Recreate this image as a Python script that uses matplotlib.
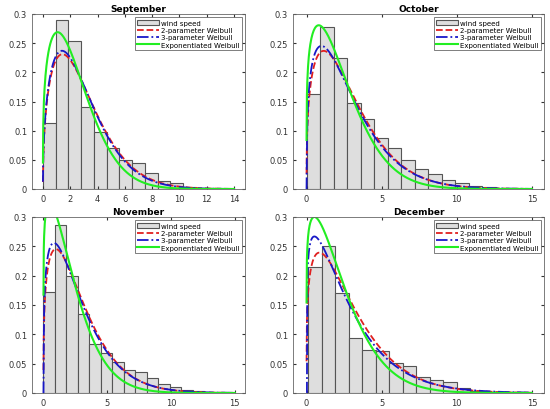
import numpy as np
import matplotlib
matplotlib.use("Agg")
import matplotlib.pyplot as plt

# ─── Data ────────────────────────────────────────────────────
months = ['September', 'October', 'November', 'December']
x_max = [14, 15, 15, 15]
x_ticks = [[0, 2, 4, 6, 8, 10, 12, 14], [0, 5, 10, 15], [0, 5, 10, 15], [0, 5, 10, 15]]
bin_start = [0.0, 0.0, 0.0, 0.1]
bin_width = [0.933, 0.9, 0.9, 0.9]
hist = [
    [0.113, 0.290, 0.253, 0.140, 0.098, 0.070, 0.050, 0.045, 0.027, 0.014, 0.010, 0.004, 0.002, 0.001, 0.0005],
    [0.163, 0.277, 0.225, 0.147, 0.120, 0.087, 0.070, 0.050, 0.035, 0.025, 0.015, 0.010, 0.005, 0.003, 0.002, 0.001],
    [0.173, 0.287, 0.200, 0.135, 0.083, 0.068, 0.052, 0.040, 0.035, 0.025, 0.015, 0.010, 0.005, 0.003, 0.002, 0.001],
    [0.215, 0.250, 0.170, 0.094, 0.074, 0.072, 0.051, 0.046, 0.028, 0.022, 0.018, 0.008, 0.004, 0.002, 0.001, 0.001],
]
# fitted parameters (shape k, scale c) ; 3-param adds location ; exp. Weibull adds alpha
w2 = [(1.45, 3.2), (1.35, 3.1), (1.30, 3.0), (1.25, 3.1)]
w3 = [(1.45, 3.12, 0.0), (1.30, 3.0, 0.02), (1.25, 2.9, 0.02), (1.15, 2.9, 0.03)]
ew = [(1.6, 3.0, 0.8), (1.5, 2.9, 0.8), (1.4, 2.6, 0.8), (1.4, 2.8, 0.8)]


def weib(x, k, c, loc=0.0):
    z = np.clip(x - loc, 1e-9, None) / c
    return np.where(x > loc, k / c * z ** (k - 1) * np.exp(-z ** k), 0.0)


def exp_weib(x, k, c, a):
    z = np.clip(x, 1e-9, None) / c
    F = 1 - np.exp(-z ** k)
    return a * k / c * z ** (k - 1) * np.exp(-z ** k) * F ** (a - 1)


fig = plt.figure(figsize=(5.5, 4.1), dpi=100)
boxes = [(32, 15, 245, 190), (293, 15, 544, 190), (32, 218, 245, 394), (293, 218, 544, 394)]

for i, m in enumerate(months):
    l, t, r, b = boxes[i]
    ax = fig.add_axes([l / 550, 1 - b / 410, (r - l) / 550, (b - t) / 410])
    lefts = bin_start[i] + bin_width[i] * np.arange(len(hist[i]))
    hb = ax.bar(lefts, hist[i], width=bin_width[i], align='edge', color='#dedede',
                edgecolor='#555555', linewidth=0.8, label='wind speed')
    x = np.linspace(0.001, x_max[i], 600)
    l2, = ax.plot(x, weib(x, *w2[i]), color='#e02020', ls='--', lw=1.3, label='2-parameter Weibull')
    l3, = ax.plot(x, weib(x, *w3[i]), color='#1818c8', ls='-.', lw=1.3, label='3-parameter Weibull')
    le, = ax.plot(x, exp_weib(x, *ew[i]), color='#22ee22', ls='-', lw=1.5, label='Exponentiated Weibull')
    ax.set_xlim(-0.8 if i == 0 else -0.9, x_max[i] + 0.8)
    ax.set_ylim(0, 0.3)
    ax.set_xticks(x_ticks[i])
    ax.set_yticks([0, 0.05, 0.1, 0.15, 0.2, 0.25, 0.3])
    ax.set_yticklabels(['0', '0.05', '0.1', '0.15', '0.2', '0.25', '0.3'])
    ax.tick_params(labelsize=6, colors='#333333', length=2, direction='in', top=True, right=True)
    for s in ax.spines.values():
        s.set_color('#666666')
        s.set_linewidth(0.6)
    ax.set_title(m, fontsize=6.5, fontweight='bold', pad=2)
    leg = ax.legend(handles=[hb, l2, l3, le], loc='upper right', fontsize=5, frameon=True,
                    fancybox=False, borderpad=0.3, labelspacing=0.2, handlelength=3.2,
                    handletextpad=0.2)
    leg.get_frame().set_edgecolor('#444444')
    leg.get_frame().set_linewidth(0.6)

fig.savefig('out.png', dpi=100)
